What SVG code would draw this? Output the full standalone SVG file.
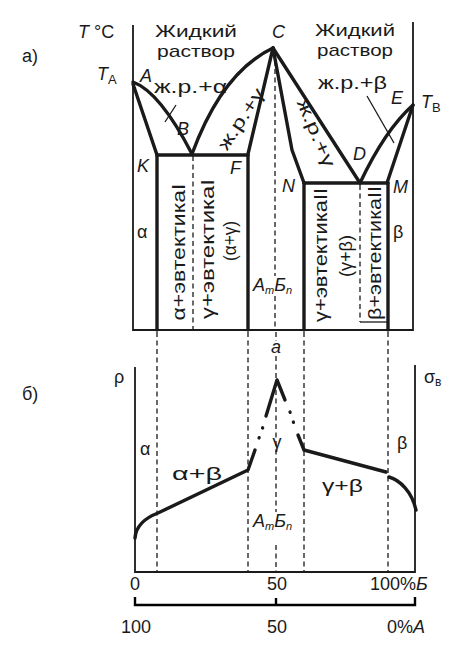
<svg xmlns="http://www.w3.org/2000/svg" width="472" height="659" viewBox="0 0 472 659">
<style>
.ax{fill:none;stroke:#1a1a1a;stroke-width:1.8}
.ax2{fill:none;stroke:#000000;stroke-width:2.4}
.th{fill:none;stroke:#1a1a1a;stroke-width:3.4;stroke-linejoin:round;stroke-linecap:round}
.tn{fill:none;stroke:#1a1a1a;stroke-width:1.3}
.ds{fill:none;stroke:#1a1a1a;stroke-width:1.3;stroke-dasharray:5,3.5}
.dt{fill:none;stroke:#1a1a1a;stroke-width:3.2;stroke-linecap:round;stroke-dasharray:0.5,10}
text{font-family:"Liberation Sans","DejaVu Sans",sans-serif;fill:#1a1a1a;font-size:18px}
.it{font-style:italic}
.m{text-anchor:middle}
.lq{font-size:17px;text-anchor:middle}
</style>
<rect width="472" height="659" fill="#ffffff"/>

<g id="panel-a">
  <g id="axes-a">
    <path class="ax" d="M133,25 V330 H413 V22"/>
  </g>
  <g id="connectors-a">
    <path class="th" d="M133,82 Q160,92 192,154"/>
    <path class="th" d="M133,84 L157,155"/>
    <path class="th" d="M192,154 Q222,72 273,48"/>
    <path class="th" d="M248,154 L273,48"/>
    <path class="th" d="M273,48 L292,150 L304,183"/>
    <path class="th" d="M273,48 L360,183"/>
    <path class="th" d="M360,183 Q385,130 413,105"/>
    <path class="th" d="M387,183 L413,105"/>
    <path class="th" d="M157,155 H248"/>
    <path class="th" d="M304,183 H388"/>
    <path class="th" d="M157,155 V330"/>
    <path class="th" d="M248,155 V330"/>
    <path class="th" d="M304,183 V330"/>
    <path class="th" d="M388,183 V330"/>
    <path class="tn" d="M360,322 H388"/>
    <path class="tn" d="M165,122 L176,105"/>
    <path class="tn" d="M367,96 L394,143"/>
    <path class="ds" d="M193,156 V330"/>
    <path class="ds" d="M275,52 V276 M275,296 V330"/>
    <path class="ds" d="M360,185 V322"/>
  </g>
  <g id="labels-a">
    <text x="22" y="62" font-size="20">а)</text>
    <text x="78" y="38"><tspan class="it">T</tspan> °C</text>
    <text x="196" y="37" class="lq" textLength="82" lengthAdjust="spacingAndGlyphs">Жидкий</text>
    <text x="196" y="57" class="lq" textLength="78" lengthAdjust="spacingAndGlyphs">раствор</text>
    <text x="355" y="36" class="lq" textLength="80" lengthAdjust="spacingAndGlyphs">Жидкий</text>
    <text x="355" y="56" class="lq" textLength="76" lengthAdjust="spacingAndGlyphs">раствор</text>
    <text x="97" y="80" class="it">T<tspan font-size="13" dy="4" font-style="normal">A</tspan></text>
    <text x="140" y="82" class="it">A</text>
    <text x="154" y="93" textLength="73" lengthAdjust="spacingAndGlyphs">ж.р.+α</text>
    <text x="177" y="135" class="it">B</text>
    <text x="137" y="172" class="it">K</text>
    <text x="272" y="38" class="it">C</text>
    <text x="230" y="174" class="it">F</text>
    <text x="282" y="192" class="it">N</text>
    <text x="353" y="160" class="it">D</text>
    <text x="393" y="193" class="it">M</text>
    <text x="391" y="104" class="it">E</text>
    <text x="421" y="108" class="it">T<tspan font-size="13" dy="4" font-style="normal">B</tspan></text>
    <text x="318" y="89" textLength="69" lengthAdjust="spacingAndGlyphs">ж.р.+β</text>
    <text transform="translate(241,119) rotate(-57)" y="6" class="m" textLength="70" lengthAdjust="spacingAndGlyphs">ж.р.+γ</text>
    <text transform="translate(316,133) rotate(67)" y="6" class="m" textLength="72" lengthAdjust="spacingAndGlyphs">ж.р.+γ</text>
    <text x="137" y="238">α</text>
    <text x="393" y="238">β</text>
    <text transform="translate(185,252) rotate(-90)" class="m" textLength="137" lengthAdjust="spacingAndGlyphs">α+эвтектикаI</text>
    <text transform="translate(214,249) rotate(-90)" class="m" textLength="140" lengthAdjust="spacingAndGlyphs">γ+эвтектикаI</text>
    <text transform="translate(236,241) rotate(-90)" class="m" textLength="40" lengthAdjust="spacingAndGlyphs">(α+γ)</text>
    <text transform="translate(327,255) rotate(-90)" class="m" textLength="134" lengthAdjust="spacingAndGlyphs">γ+эвтектикаII</text>
    <text transform="translate(352,256) rotate(-90)" class="m" textLength="42" lengthAdjust="spacingAndGlyphs">(γ+β)</text>
    <text transform="translate(381,253) rotate(-90)" class="m" textLength="134" lengthAdjust="spacingAndGlyphs">β+эвтектикаII</text>
    <text x="253" y="291" class="it" font-size="16">A<tspan font-size="11" dy="3">m</tspan><tspan dy="-3">Б</tspan><tspan font-size="11" dy="3">n</tspan></text>
  </g>
</g>

<g id="link-lines">
  <path class="ds" d="M157,332 V572 M248,332 V572 M304,332 V572 M388,332 V572"/>
  <path class="ds" d="M276,332 V341 M276,356 V512 M276,545 V572"/>
  <text x="276" y="353" class="m it" font-size="16">a</text>
</g>

<g id="panel-b">
  <g id="axes-b">
    <path class="ax" d="M135,367 V572 H415 V365"/>
  </g>
  <g id="scale-2">
    <path class="ax2" d="M135,597 L135,605 L415,605 L415,597"/>
    <path class="ax2" d="M276,598 L276,605"/>
  </g>
  <g id="curves-b">
    <path class="th" d="M135,538 C136,525 145,518 158,513 L248,470 L255,450"/>
    <path class="dt" d="M259,438 L264,424"/>
    <path class="th" d="M266,416 L277,380 L285,400"/>
    <path class="dt" d="M290,412 L294,424"/>
    <path class="th" d="M298,435 L304,450 L386,472"/>
    <path class="th" d="M389,477 C400,480 412,492 416,510"/>
  </g>
  <g id="labels-b">
    <text x="22" y="400" font-size="20">б)</text>
    <text x="114" y="383">ρ</text>
    <text x="424" y="383">σ<tspan font-size="12" dy="3">в</tspan></text>
    <text x="140" y="455">α</text>
    <text x="172" y="480" textLength="50" lengthAdjust="spacingAndGlyphs">α+β</text>
    <text x="277" y="448" class="m">γ</text>
    <text x="397" y="449">β</text>
    <text x="322" y="492" textLength="41" lengthAdjust="spacingAndGlyphs">γ+β</text>
    <text x="253" y="527" class="it" font-size="16">A<tspan font-size="11" dy="3">m</tspan><tspan dy="-3">Б</tspan><tspan font-size="11" dy="3">n</tspan></text>
    <text x="135" y="590" class="m">0</text>
    <text x="277" y="590" class="m">50</text>
    <text x="370" y="590">100%<tspan class="it">Б</tspan></text>
    <text x="136" y="633" class="m">100</text>
    <text x="277" y="633" class="m">50</text>
    <text x="387" y="633">0%<tspan class="it">A</tspan></text>
  </g>
</g>
</svg>
